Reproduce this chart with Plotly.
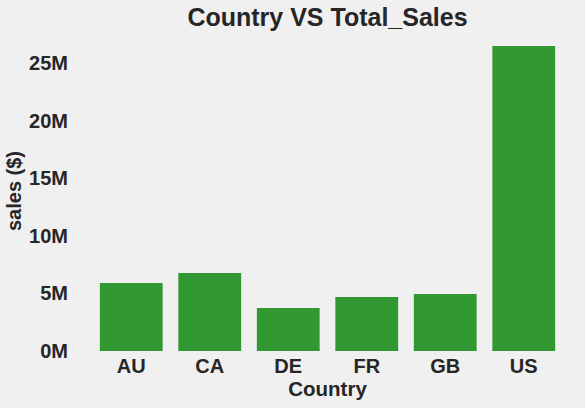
import plotly.graph_objects as go

countries = ["AU", "CA", "DE", "FR", "GB", "US"]
total_sales = [5.9e6, 6.77e6, 3.73e6, 4.69e6, 4.95e6, 26.5e6]
tick_values = [0, 5e6, 10e6, 15e6, 20e6, 25e6]
tick_labels = ["0M", "5M", "10M", "15M", "20M", "25M"]

BG = "#f0f0f0"
TXT = "#262626"
FONT = "Liberation Sans, Arial, sans-serif"

fig = go.Figure(
    go.Bar(x=countries, y=total_sales, marker=dict(color="#329832", line=dict(width=0)), width=0.8)
)
fig.update_layout(
    width=585, height=408,
    paper_bgcolor=BG, plot_bgcolor=BG,
    margin=dict(l=92, r=22, t=31, b=57),
    font=dict(family=FONT, color=TXT),
    title=dict(text="Country VS Total_Sales", x=0.5, xref="paper", xanchor="center",
               y=1 - 8 / 408, yref="container", yanchor="top",
               font=dict(size=25, color=TXT, family=FONT, weight="bold")),
    showlegend=False,
)
fig.update_xaxes(
    range=[-0.5, 5.5], showgrid=False, zeroline=False, showline=False, ticks="",
    automargin=False,
    tickfont=dict(size=20, color=TXT, family=FONT, weight="bold"), ticklabelstandoff=1,
    title=dict(text="Country", font=dict(size=20.5, color=TXT, weight="bold"), standoff=1),
)
fig.update_yaxes(
    range=[0, 27.8e6], showgrid=False, zeroline=False, showline=False, ticks="",
    automargin=False,
    tickvals=tick_values, ticktext=tick_labels,
    tickfont=dict(size=20, color=TXT, weight="bold"), ticklabelstandoff=23,
    title=dict(text="sales ($)", font=dict(size=20, color=TXT, weight="bold"), standoff=2),
)
fig.write_html(
    "out.html",
    config={"displayModeBar": False},
    post_script="document.body.style.margin='0';document.body.style.background='#f0f0f0';",
)
